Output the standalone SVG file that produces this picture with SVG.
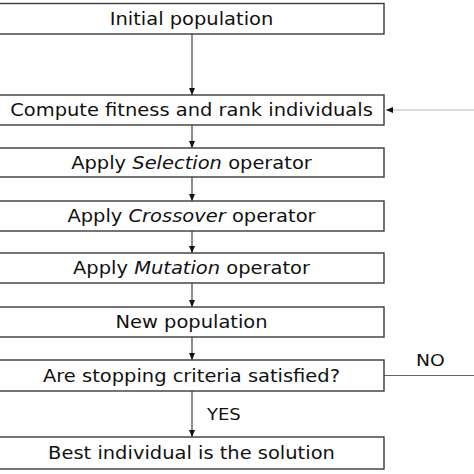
<svg xmlns="http://www.w3.org/2000/svg" width="474" height="474" viewBox="0 0 474 474">
<style>
.box{fill:#fff;stroke:#3a3a3a;stroke-width:1.4}
.t{font-family:"DejaVu Sans",sans-serif;font-size:17px;fill:#111;text-anchor:middle}
.lbl{font-family:"DejaVu Sans",sans-serif;font-size:15px;fill:#111}
.c{stroke:#444;stroke-width:1.2;fill:none}
.i{font-style:italic}
</style>
<defs>
<marker id="ah" markerWidth="7" markerHeight="6" refX="7" refY="3" orient="auto" markerUnits="userSpaceOnUse">
<path d="M0,0 L7,3 L0,6 Z" fill="#111"/>
</marker>
</defs>
<rect width="474" height="474" fill="#fff"/>
<g id="connectors">
<line class="c" x1="192" y1="34" x2="192" y2="95" marker-end="url(#ah)"/>
<line class="c" x1="192" y1="125" x2="192" y2="148" marker-end="url(#ah)"/>
<line class="c" x1="192" y1="177" x2="192" y2="201" marker-end="url(#ah)"/>
<line class="c" x1="192" y1="231" x2="192" y2="253" marker-end="url(#ah)"/>
<line class="c" x1="192" y1="283" x2="192" y2="307" marker-end="url(#ah)"/>
<line class="c" x1="192" y1="337" x2="192" y2="360" marker-end="url(#ah)"/>
<line class="c" x1="192" y1="391" x2="192" y2="437" marker-end="url(#ah)"/>
<line x1="384" y1="375.5" x2="474" y2="375.5" stroke="#666" stroke-width="1.2"/>
<line x1="474" y1="110" x2="386" y2="110" stroke="#cfcfcf" stroke-width="1.4" marker-end="url(#ah)"/>
<text class="lbl" transform="translate(416,366) scale(1.25,1)">NO</text>
<text class="lbl" transform="translate(207,420) scale(1.2,1)">YES</text>
</g>
<g id="n1"><rect class="box" x="-5" y="3.5" width="389" height="30.5"/><text class="t" transform="translate(191.5,25) scale(1.145,1)">Initial population</text></g>
<g id="n2"><rect class="box" x="-5" y="95" width="389" height="30"/><text class="t" transform="translate(191.5,116) scale(1.145,1)">Compute fitness and rank individuals</text></g>
<g id="n3"><rect class="box" x="-5" y="148" width="389" height="29"/><text class="t" transform="translate(191.5,169) scale(1.145,1)">Apply <tspan class="i">Selection</tspan> operator</text></g>
<g id="n4"><rect class="box" x="-5" y="201" width="389" height="30"/><text class="t" transform="translate(191.5,222) scale(1.145,1)">Apply <tspan class="i">Crossover</tspan> operator</text></g>
<g id="n5"><rect class="box" x="-5" y="253" width="389" height="30"/><text class="t" transform="translate(191.5,274) scale(1.145,1)">Apply <tspan class="i">Mutation</tspan> operator</text></g>
<g id="n6"><rect class="box" x="-5" y="307" width="389" height="30"/><text class="t" transform="translate(191.5,328) scale(1.145,1)">New population</text></g>
<g id="n7"><rect class="box" x="-5" y="360" width="389" height="31"/><text class="t" transform="translate(191.5,382) scale(1.145,1)">Are stopping criteria satisfied?</text></g>
<g id="n8"><rect class="box" x="-5" y="437" width="389" height="32"/><text class="t" transform="translate(191.5,459) scale(1.145,1)">Best individual is the solution</text></g>
</svg>
